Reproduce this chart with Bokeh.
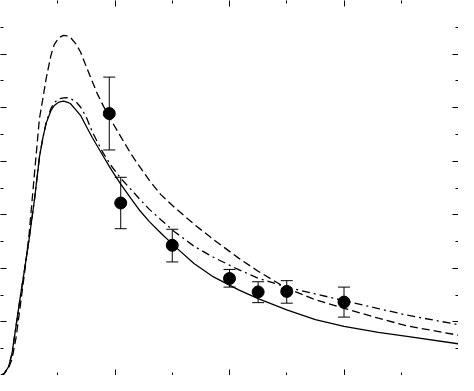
from bokeh.plotting import figure
from bokeh.models import (LinearAxis, FixedTicker, Whisker, ColumnDataSource,
                          TeeHead, Range1d)
from bokeh.embed import file_html
from bokeh.resources import INLINE

# ---- data ----
x_curve = [0, 0.03, 0.07, 0.10, 0.135, 0.17, 0.21, 0.25, 0.30, 0.34, 0.37, 0.40,
           0.44, 0.47, 0.51, 0.55, 0.58, 0.61, 0.66, 0.70, 0.75, 0.80, 0.85, 0.90,
           0.97, 1.05, 1.14, 1.22, 1.30, 1.40, 1.52, 1.69, 1.86, 2.08, 2.25, 2.50,
           2.75, 3.0, 3.3, 3.55, 4.0]

y_solid = [0, 0.032, 0.161, 0.405, 0.913, 1.425, 1.977, 2.548, 3.337, 4.077, 4.436,
           4.716, 4.943, 5.040, 5.104, 5.120, 5.102, 5.077, 4.954, 4.852, 4.649,
           4.447, 4.266, 4.084, 3.835, 3.572, 3.301, 3.070, 2.872, 2.660, 2.415,
           2.091, 1.840, 1.597, 1.436, 1.226, 1.042, 0.915, 0.804, 0.732, 0.591]

y_dashed = [0, 0.032, 0.138, 0.299, 0.698, 1.250, 1.919, 2.642, 3.849, 4.794, 5.170,
            5.557, 5.972, 6.182, 6.305, 6.348, 6.339, 6.313, 6.187, 6.033, 5.761,
            5.496, 5.238, 5.024, 4.750, 4.460, 4.134, 3.883, 3.643, 3.376, 3.138,
            2.825, 2.537, 2.191, 1.946, 1.627, 1.414, 1.255, 1.069, 0.927, 0.752]

y_dashdot = [0, 0.032, 0.161, 0.405, 0.913, 1.425, 1.977, 2.548, 3.337, 4.077, 4.436,
             4.732, 4.982, 5.093, 5.167, 5.183, 5.188, 5.170, 5.109, 5.007, 4.819,
             4.556, 4.343, 4.141, 3.906, 3.683, 3.471, 3.282, 3.101, 2.909, 2.684,
             2.413, 2.207, 1.975, 1.817, 1.649, 1.522, 1.398, 1.250, 1.126, 0.949]

x_obs = [0.95, 1.05, 1.50, 2.00, 2.25, 2.50, 3.00]
y_obs = [4.89, 3.22, 2.43, 1.81, 1.56, 1.57, 1.37]
y_obs_upper = [5.57, 3.70, 2.73, 1.98, 1.75, 1.77, 1.65]
y_obs_lower = [4.21, 2.74, 2.12, 1.65, 1.36, 1.35, 1.09]

x_major = [1, 2, 3]
x_minor = [0.5, 1.5, 2.5, 3.5]
y_major = [1, 2, 3, 4, 5, 6]
y_minor = [0.5, 1.5, 2.5, 3.5, 4.5, 5.5, 6.5]

# ---- figure ----
p = figure(width=458, height=375, x_range=Range1d(0, 4), y_range=Range1d(0, 7),
           output_backend="svg", toolbar_location=None, min_border=0,
           outline_line_color=None, background_fill_color="white",
           border_fill_color="white")
p.xgrid.visible = False
p.ygrid.visible = False

p.add_layout(LinearAxis(), "above")
p.add_layout(LinearAxis(), "right")

for ax in p.xaxis:
    ax.ticker = FixedTicker(ticks=x_major, minor_ticks=x_minor)
for ax in p.yaxis:
    ax.ticker = FixedTicker(ticks=y_major, minor_ticks=y_minor)
for ax in p.axis:
    ax.axis_line_color = None
    ax.major_tick_in = 6
    ax.major_tick_out = 0
    ax.minor_tick_in = 3
    ax.minor_tick_out = 0
    ax.major_tick_line_color = "black"
    ax.minor_tick_line_color = "black"
    ax.major_tick_line_width = 1
    ax.minor_tick_line_width = 1
    ax.major_label_text_font_size = "0px"
    ax.major_label_standoff = 0
    ax.major_label_overrides = {t: "" for t in range(0, 8)}

# curves
p.line(x_curve, y_solid, line_color="black", line_width=1.3)
p.line(x_curve, y_dashed, line_color="black", line_width=1.3, line_dash="8 4")
p.line(x_curve, y_dashdot, line_color="black", line_width=1.3, line_dash="8 4 2 4")

# observations with error bars
src = ColumnDataSource(dict(x=x_obs, y=y_obs, upper=y_obs_upper, lower=y_obs_lower))
p.add_layout(Whisker(source=src, base="x", upper="upper", lower="lower",
                     line_color="black", line_width=1,
                     upper_head=TeeHead(size=12, line_color="black", line_width=1),
                     lower_head=TeeHead(size=12, line_color="black", line_width=1)))
p.scatter("x", "y", source=src, size=12, fill_color="black", line_color="black")

open("out.html", "w").write(file_html(p, INLINE))
